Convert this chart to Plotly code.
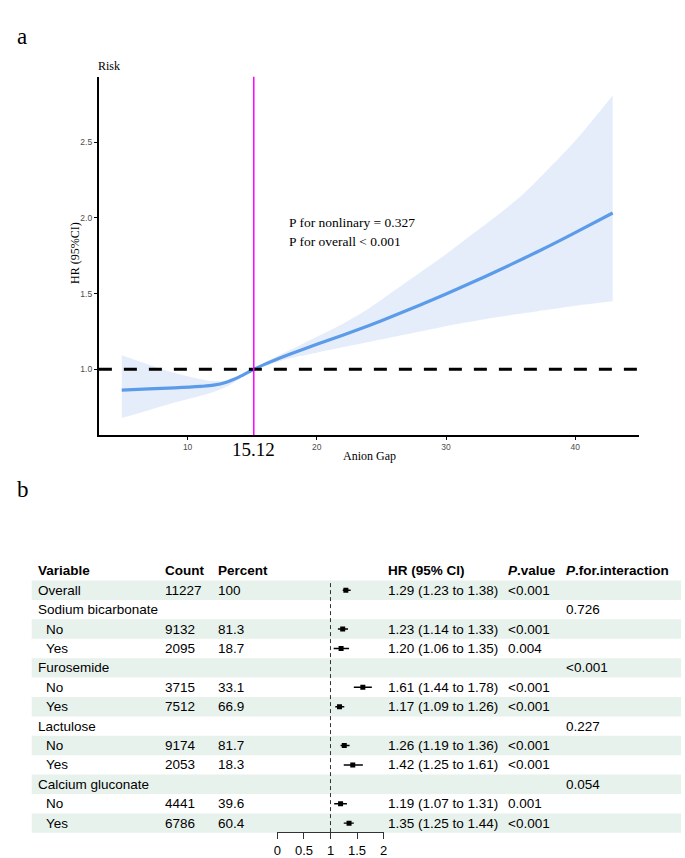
import plotly.graph_objects as go

# ---------------- Panel a data (restricted cubic spline) ----------------
anion_gap = [4.9, 7, 9, 11, 12, 13, 14, 15.12, 16, 17, 18, 20, 22, 24, 26, 28, 30, 32, 34, 36, 38, 40, 42.9]
hr_curve = [0.862, 0.870, 0.877, 0.887, 0.895, 0.915, 0.950, 1.000, 1.034, 1.070, 1.103, 1.165, 1.225,
            1.288, 1.355, 1.425, 1.498, 1.573, 1.651, 1.732, 1.816, 1.903, 2.033]
hr_upper = [1.092, 1.030, 0.975, 0.935, 0.922, 0.928, 0.958, 1.005, 1.048, 1.090, 1.130, 1.215, 1.300,
            1.400, 1.520, 1.640, 1.760, 1.890, 2.020, 2.160, 2.330, 2.510, 2.810]
hr_lower = [0.678, 0.730, 0.780, 0.825, 0.850, 0.885, 0.935, 0.995, 1.022, 1.050, 1.075, 1.110, 1.145,
            1.180, 1.215, 1.250, 1.285, 1.315, 1.345, 1.370, 1.395, 1.420, 1.450]
cutoff = 15.12
x_ticks_a = [10, 20, 30, 40]
y_ticks_a = [1.0, 1.5, 2.0, 2.5]

# ---------------- Panel b data (forest plot) ----------------
variables = ["Overall", "Sodium bicarbonate", "No", "Yes", "Furosemide", "No", "Yes",
             "Lactulose", "No", "Yes", "Calcium gluconate", "No", "Yes"]
indent = [False, False, True, True, False, True, True, False, True, True, False, True, True]
counts = ["11227", "", "9132", "2095", "", "3715", "7512", "", "9174", "2053", "", "4441", "6786"]
percents = ["100", "", "81.3", "18.7", "", "33.1", "66.9", "", "81.7", "18.3", "", "39.6", "60.4"]
hr = [1.29, None, 1.23, 1.20, None, 1.61, 1.17, None, 1.26, 1.42, None, 1.19, 1.35]
lo = [1.23, None, 1.14, 1.06, None, 1.44, 1.09, None, 1.19, 1.25, None, 1.07, 1.25]
hi = [1.38, None, 1.33, 1.35, None, 1.78, 1.26, None, 1.36, 1.61, None, 1.31, 1.44]
pvals = ["<0.001", "", "<0.001", "0.004", "", "<0.001", "<0.001", "", "<0.001", "<0.001", "", "0.001", "<0.001"]
p_inter = ["", "0.726", "", "", "<0.001", "", "", "0.227", "", "", "0.054", "", ""]
forest_ticks = [0, 0.5, 1, 1.5, 2]

W, H = 685, 858
SERIF = "Liberation Serif, Times New Roman, serif"
SANS = "Liberation Sans, Arial, sans-serif"

fig = go.Figure()

# CI band (lower edge, then upper edge filled down to it)
fig.add_trace(go.Scatter(
    x=anion_gap, y=hr_lower, mode="lines", line=dict(width=0, shape="spline", smoothing=0.8),
    hoverinfo="skip", showlegend=False, xaxis="x", yaxis="y"))
fig.add_trace(go.Scatter(
    x=anion_gap, y=hr_upper, mode="lines", line=dict(width=0, shape="spline", smoothing=0.8),
    fill="tonexty", fillcolor="rgba(222,233,249,0.8)",
    hoverinfo="skip", showlegend=False, xaxis="x", yaxis="y"))
# spline
fig.add_trace(go.Scatter(
    x=anion_gap, y=hr_curve, mode="lines",
    line=dict(color="#5b9bea", width=3.2, shape="spline", smoothing=0.8),
    showlegend=False, xaxis="x", yaxis="y"))

# forest markers
rows = list(range(1, len(variables) + 1))
fx, fy, em, ep = [], [], [], []
for r, h, l, u in zip(rows, hr, lo, hi):
    if h is None:
        continue
    fx.append(h); fy.append(r); em.append(h - l); ep.append(u - h)
fig.add_trace(go.Scatter(
    x=fx, y=fy, mode="markers",
    marker=dict(symbol="square", size=5, color="black"),
    error_x=dict(type="data", array=ep, arrayminus=em, symmetric=False, width=0, thickness=1.4, color="black"),
    showlegend=False, xaxis="x2", yaxis="y2"))


def px_x(p):
    return p / W


def px_y(p):
    return 1 - p / H


def row_y(v):
    return px_y(573.5 + 19.5 * v)


shapes = []
annotations = []

# panel a reference lines
shapes.append(dict(type="line", xref="x domain", yref="y", x0=0, x1=1, y0=1, y1=1,
                   line=dict(color="black", width=3, dash="13px,12px"), layer="above"))
shapes.append(dict(type="line", xref="x", yref="y domain", x0=cutoff, x1=cutoff, y0=0, y1=1,
                   line=dict(color="#ff00ff", width=1.5), layer="above"))

# panel a texts
annotations += [
    dict(text="a", x=px_x(11), y=px_y(37), xref="paper", yref="paper", showarrow=False,
         xanchor="left", yanchor="middle", font=dict(family=SERIF, size=23, color="black")),
    dict(text="b", x=px_x(11), y=px_y(492), xref="paper", yref="paper", showarrow=False,
         xanchor="left", yanchor="middle", font=dict(family=SERIF, size=23, color="black")),
    dict(text="Risk", x=px_x(93), y=px_y(66), xref="paper", yref="paper", showarrow=False,
         xanchor="left", yanchor="middle", font=dict(family=SERIF, size=12, color="black")),
    dict(text="HR (95%CI)", x=px_x(72), y=px_y(254), xref="paper", yref="paper", showarrow=False,
         textangle=-90, xanchor="center", yanchor="middle", font=dict(family=SERIF, size=12, color="black")),
    dict(text="Anion Gap", x=px_x(370), y=px_y(458), xref="paper", yref="paper", showarrow=False,
         xanchor="center", yanchor="middle", font=dict(family=SERIF, size=12, color="black")),
    dict(text=f"{cutoff:.2f}", x=cutoff, y=px_y(452), xref="x", yref="paper", showarrow=False,
         xanchor="center", yanchor="middle", font=dict(family=SERIF, size=19, color="black")),
    dict(text="P for nonlinary = 0.327", x=px_x(286), y=px_y(224), xref="paper", yref="paper",
         showarrow=False, xanchor="left", yanchor="middle", font=dict(family=SERIF, size=13.5, color="black")),
    dict(text="P for overall < 0.001", x=px_x(286), y=px_y(243), xref="paper", yref="paper",
         showarrow=False, xanchor="left", yanchor="middle", font=dict(family=SERIF, size=13.5, color="black")),
]

# panel b shading
for r in rows:
    if r % 2 == 1:
        shapes.append(dict(type="rect", xref="paper", yref="paper", x0=px_x(28), x1=1,
                           y0=row_y(r + 0.5), y1=row_y(r - 0.5), fillcolor="#e8f2ed",
                           line=dict(width=0), layer="below"))
# reference dashed line
shapes.append(dict(type="line", xref="x2", yref="y2 domain", x0=1, x1=1, y0=0, y1=1,
                   line=dict(color="#333333", width=1, dash="4px,3px"), layer="above"))

col_x = {"var": 32, "count": 161, "pct": 214, "hr": 387, "p": 508, "pi": 567}
tfont = dict(family=SANS, size=13.5, color="black")


def add_text(txt, xp, v):
    annotations.append(dict(text=txt, x=px_x(xp), y=row_y(v), xref="paper", yref="paper",
                            showarrow=False, xanchor="left", yanchor="middle", font=tfont))


headers = [("<b>Variable</b>", "var"), ("<b>Count</b>", "count"), ("<b>Percent</b>", "pct"),
           ("<b>HR (95% CI)</b>", "hr"), ("<b><i>P</i>.value</b>", "p"),
           ("<b><i>P</i>.for.interaction</b>", "pi")]
for t, c in headers:
    add_text(t, col_x[c], 0)

for r, name, ind, cnt, pct, h, l, u, pv, pint in zip(rows, variables, indent, counts, percents,
                                                    hr, lo, hi, pvals, p_inter):
    add_text(name, col_x["var"] + (8 if ind else 0), r)
    if cnt:
        add_text(cnt, col_x["count"], r)
    if pct:
        add_text(pct, col_x["pct"], r)
    if h is not None:
        add_text(f"{h:.2f} ({l:.2f} to {u:.2f})", col_x["hr"], r)
    if pv:
        add_text(pv, col_x["p"], r)
    if pint:
        add_text(pint, col_x["pi"], r)

fig.update_layout(
    width=W, height=H, margin=dict(l=0, r=0, t=0, b=0),
    paper_bgcolor="white", plot_bgcolor="rgba(0,0,0,0)",
    showlegend=False,
    xaxis=dict(domain=[96 / W, 642 / W], range=[3.13, 44.9], tickvals=x_ticks_a,
               ticks="outside", ticklen=3, tickcolor="black", tickwidth=1,
               tickfont=dict(family=SANS, size=8.5, color="#4d4d4d"),
               showline=True, linecolor="black", linewidth=2, showgrid=False, zeroline=False,
               anchor="y"),
    yaxis=dict(domain=[1 - 437 / H, 1 - 77 / H], range=[0.566, 2.934], tickvals=y_ticks_a,
               ticktext=[f"{v:.1f}" for v in y_ticks_a],
               ticks="outside", ticklen=3, tickcolor="black", tickwidth=1,
               tickfont=dict(family=SANS, size=8.5, color="#4d4d4d"),
               showline=True, linecolor="black", linewidth=2, showgrid=False, zeroline=False,
               anchor="x"),
    xaxis2=dict(domain=[276.7 / W, 384 / W], range=[0, 2], tickvals=forest_ticks,
                ticktext=[f"{v:g}" for v in forest_ticks],
                ticks="outside", ticklen=6, tickcolor="#333333", tickwidth=1,
                tickfont=dict(family=SANS, size=13, color="black"),
                showline=True, linecolor="#333333", linewidth=1, showgrid=False, zeroline=False,
                anchor="y2"),
    yaxis2=dict(domain=[(H - 836) / H, (H - 583) / H], range=[13.46, 0.487],
                visible=False, showgrid=False, zeroline=False, anchor="x2"),
    shapes=shapes, annotations=annotations,
)

fig.write_html("out.html")
